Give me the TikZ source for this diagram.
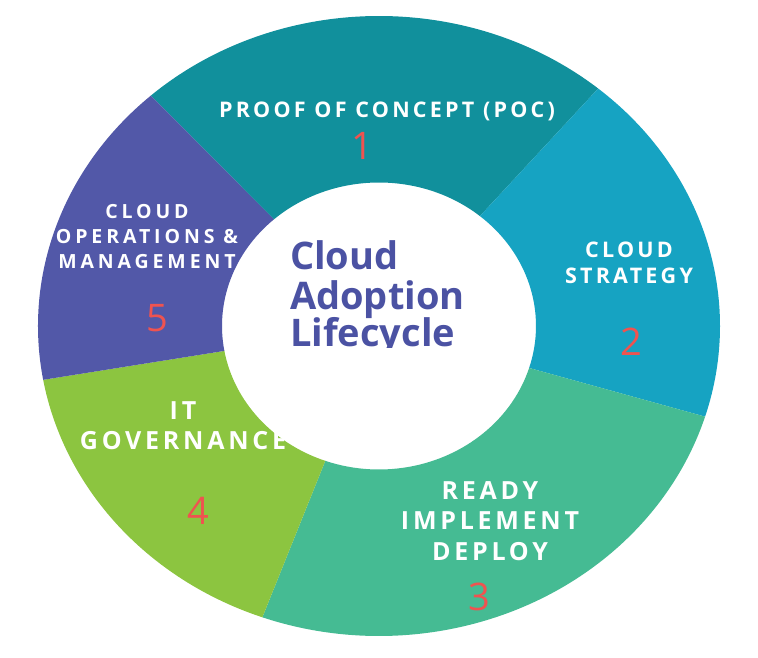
\documentclass[tikz,border=0pt]{standalone}
\usepackage{fontspec}
\setmainfont{Open Sans}
\newfontfamily\labelfont[LetterSpace=15]{Open Sans}
\newfontfamily\opsfont[LetterSpace=20]{Open Sans}

\definecolor{pocteal}{HTML}{11909C}
\definecolor{strategyblue}{HTML}{16A3C2}
\definecolor{deploygreen}{HTML}{45BB93}
\definecolor{governgreen}{HTML}{8CC540}
\definecolor{opspurple}{HTML}{5258A8}
\definecolor{titleblue}{HTML}{4B52A3}
\definecolor{numred}{HTML}{EF5350}

\tikzset{
	seglabel/.style 2 args={text=white, align=center, inner sep=0pt, font=\labelfont\bfseries\fontsize{#1}{#2}\selectfont},
	segnum/.style={text=numred, inner sep=0pt, font=\fontsize{38}{38}\selectfont},
	titleline/.style={text=titleblue, inner sep=0pt, anchor=base west, font=\bfseries\fontsize{38}{42}\selectfont}
}

\begin{document}
\begin{tikzpicture}[x=1pt,y=1pt]
	\useasboundingbox (-379,-332) rectangle (379,326);
		%Ring
			%1 proof of concept
				\fill[pocteal] (50:341 and 310) arc[start angle=50, end angle=132, x radius=341, y radius=310] -- (132:157 and 143.5) arc[start angle=132, end angle=50, x radius=157, y radius=143.5] -- cycle;
			%2 strategy
				\fill[strategyblue] (-17:341 and 310) arc[start angle=-17, end angle=50, x radius=341, y radius=310] -- (50:157 and 143.5) arc[start angle=50, end angle=-17, x radius=157, y radius=143.5] -- cycle;
			%3 deploy
				\fill[deploygreen] (-110:341 and 310) arc[start angle=-110, end angle=-17, x radius=341, y radius=310] -- (-17:157 and 143.5) arc[start angle=-17, end angle=-110, x radius=157, y radius=143.5] -- cycle;
			%4 governance
				\fill[governgreen] (190:341 and 310) arc[start angle=190, end angle=250, x radius=341, y radius=310] -- (250:157 and 143.5) arc[start angle=250, end angle=190, x radius=157, y radius=143.5] -- cycle;
			%5 operations
				\fill[opspurple] (132:341 and 310) arc[start angle=132, end angle=190, x radius=341, y radius=310] -- (190:157 and 143.5) arc[start angle=190, end angle=132, x radius=157, y radius=143.5] -- cycle;
		%Labels
			\node[seglabel={21.5}{26}] (poc) at (8,215) {PROOF OF CONCEPT (POC)};
			\node[segnum] (num1) at (-17,180) {1};
			\node[seglabel={21.5}{26}] (strategy) at (250,63) {CLOUD\\STRATEGY};
			\node[segnum] (num2) at (252,-16) {2};
			\node[seglabel={25}{30.5}] (deploy) at (111,-195) {READY\\IMPLEMENT\\DEPLOY};
			\node[segnum] (num3) at (100,-271) {3};
			\node[seglabel={25}{30}] (governance) at (-196,-100) {IT\\GOVERNANCE};
			\node[segnum] (num4) at (-181,-185) {4};
			\node[seglabel={19.5}{25}, font=\opsfont\bfseries\fontsize{19.5}{25}\selectfont] (operations) at (-232,89) {CLOUD\\OPERATIONS \&\\MANAGEMENT};
			\node[segnum] (num5) at (-222,8) {5};
		%Title
			\node[titleline] (title1) at (-89,56) {Cloud};
			\node[titleline] (title2) at (-89,16) {Adoption};
			\begin{scope}
				\clip (-150,-22) rectangle (150,40);
				\node[titleline] (title3) at (-89,-21) {Lifecycle};
			\end{scope}
\end{tikzpicture}
\end{document}
